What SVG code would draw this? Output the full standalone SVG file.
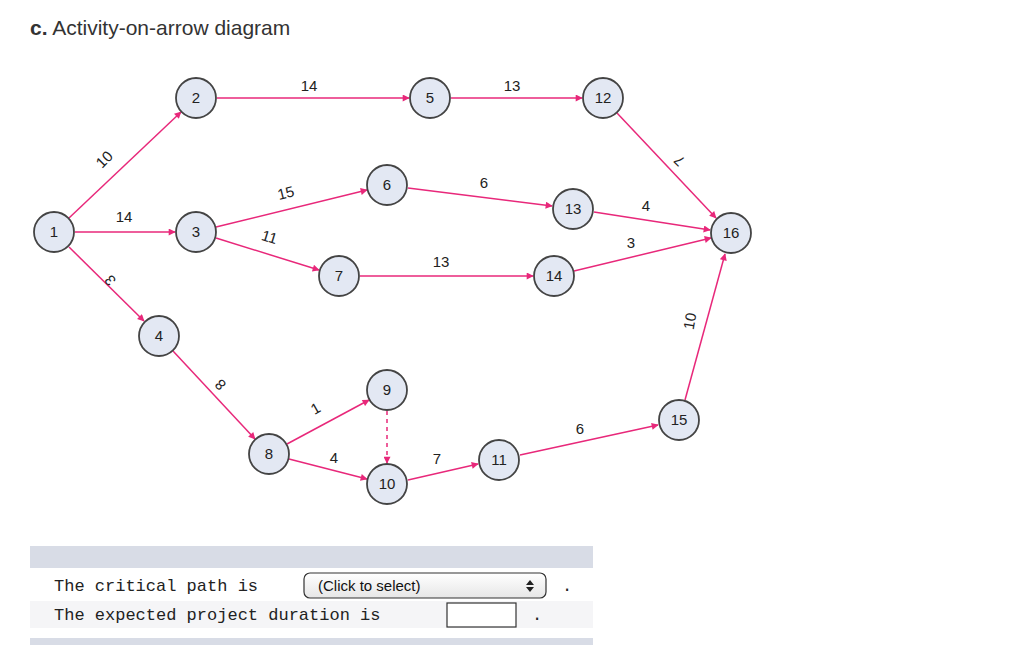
<svg xmlns="http://www.w3.org/2000/svg" width="1024" height="666" viewBox="0 0 1024 666">
<defs>
<marker id="ar" viewBox="0 0 10 10" refX="9" refY="5" markerWidth="9" markerHeight="7" orient="auto" markerUnits="userSpaceOnUse"><path d="M0,0L10,5L0,10z" fill="#e8287a"/></marker>
<linearGradient id="sg" x1="0" y1="0" x2="0" y2="1"><stop offset="0" stop-color="#ffffff"/><stop offset="1" stop-color="#e6e6e6"/></linearGradient>
</defs>
<style>
.n circle{fill:#e3e8f3;stroke:#444;stroke-width:1.8}
.n text{font:15px "Liberation Sans",Arial,sans-serif;fill:#222;text-anchor:middle}
#edges line{stroke:#e8287a;stroke-width:1.5;marker-end:url(#ar)}
.l{font:15px "Liberation Sans",Arial,sans-serif;fill:#222;text-anchor:middle}
.m{font:17px "Liberation Mono","Courier New",monospace;fill:#222}
</style>
<rect width="1024" height="666" fill="#fff"/>
<text x="30" y="35" font-family="Liberation Sans,Arial,sans-serif" font-size="21" fill="#333"><tspan font-weight="bold">c.</tspan> Activity-on-arrow diagram</text>
<g id="edges">
<line x1="69" y1="218" x2="181" y2="112"/>
<line x1="75" y1="232" x2="175" y2="232"/>
<line x1="69" y1="247" x2="144" y2="321"/>
<line x1="217" y1="98" x2="409" y2="98"/>
<line x1="451" y1="98" x2="582" y2="98"/>
<line x1="617" y1="113" x2="716" y2="218"/>
<line x1="216" y1="227" x2="367" y2="190"/>
<line x1="216" y1="238" x2="319" y2="270"/>
<line x1="408" y1="188" x2="552" y2="206"/>
<line x1="594" y1="212" x2="710" y2="230"/>
<line x1="360" y1="276" x2="533" y2="276"/>
<line x1="574" y1="271" x2="711" y2="238"/>
<line x1="173" y1="351" x2="255" y2="439"/>
<line x1="287" y1="444" x2="369" y2="400"/>
<line x1="289" y1="459" x2="367" y2="479"/>
<line x1="387" y1="411" x2="387" y2="463" stroke-dasharray="4,4"/>
<line x1="408" y1="480" x2="478" y2="464"/>
<line x1="520" y1="455" x2="658" y2="425"/>
<line x1="685" y1="400" x2="725" y2="254"/>
</g>
<g id="labels">
<text class="l" transform="translate(108,163) rotate(-45)">10</text>
<text class="l" x="124" y="222">14</text>
<text class="l" transform="translate(114,277) rotate(-130)">3</text>
<text class="l" x="309" y="91">14</text>
<text class="l" x="512" y="91">13</text>
<text class="l" transform="translate(683,157) rotate(-135)">7</text>
<text class="l" transform="translate(287,198) rotate(-14)">15</text>
<text class="l" transform="translate(268,242) rotate(17)">11</text>
<text class="l" x="484" y="188">6</text>
<text class="l" x="646" y="211">4</text>
<text class="l" x="441" y="267">13</text>
<text class="l" x="631" y="248">3</text>
<text class="l" transform="translate(224,381) rotate(-135)">8</text>
<text class="l" transform="translate(318,413) rotate(-30)">1</text>
<text class="l" x="334" y="463">4</text>
<text class="l" x="437" y="464">7</text>
<text class="l" x="580" y="434">6</text>
<text class="l" transform="translate(695,322) rotate(-80)">10</text>
</g>
<g id="n1" class="n"><circle cx="54" cy="232" r="20"/><text x="54" y="237">1</text></g>
<g id="n2" class="n"><circle cx="196" cy="98" r="20"/><text x="196" y="103">2</text></g>
<g id="n3" class="n"><circle cx="196" cy="232" r="20"/><text x="196" y="237">3</text></g>
<g id="n4" class="n"><circle cx="159" cy="336" r="20"/><text x="159" y="341">4</text></g>
<g id="n5" class="n"><circle cx="430" cy="98" r="20"/><text x="430" y="103">5</text></g>
<g id="n6" class="n"><circle cx="387" cy="185" r="20"/><text x="387" y="190">6</text></g>
<g id="n7" class="n"><circle cx="339" cy="276" r="20"/><text x="339" y="281">7</text></g>
<g id="n8" class="n"><circle cx="269" cy="454" r="20"/><text x="269" y="459">8</text></g>
<g id="n9" class="n"><circle cx="387" cy="390" r="20"/><text x="387" y="395">9</text></g>
<g id="n10" class="n"><circle cx="387" cy="484" r="20"/><text x="387" y="489">10</text></g>
<g id="n11" class="n"><circle cx="499" cy="460" r="20"/><text x="499" y="465">11</text></g>
<g id="n12" class="n"><circle cx="603" cy="98" r="20"/><text x="603" y="103">12</text></g>
<g id="n13" class="n"><circle cx="573" cy="209" r="20"/><text x="573" y="214">13</text></g>
<g id="n14" class="n"><circle cx="554" cy="276" r="20"/><text x="554" y="281">14</text></g>
<g id="n15" class="n"><circle cx="679" cy="420" r="20"/><text x="679" y="425">15</text></g>
<g id="n16" class="n"><circle cx="731" cy="233" r="20"/><text x="731" y="238">16</text></g>
<g id="form">
<rect x="30" y="546" width="563" height="22" fill="#d8dce6"/>
<rect x="30" y="601" width="563" height="27" fill="#f5f5f7"/>
<rect x="30" y="638" width="563" height="7" fill="#d8dce6"/>
<text class="m" x="54" y="591">The critical path is</text>
<rect x="304" y="573" width="242" height="25" rx="6" fill="url(#sg)" stroke="#333" stroke-width="1.2"/>
<text x="318" y="591" font-family="Liberation Sans,Arial,sans-serif" font-size="15" fill="#111">(Click to select)</text>
<path d="M530,580L534,585L526,585z M530,592L534,587L526,587z" fill="#222"/>
<text class="m" x="562" y="591">.</text>
<text class="m" x="54" y="620">The expected project duration is</text>
<rect x="447" y="603" width="69" height="24" fill="#fff" stroke="#333" stroke-width="1.2"/>
<text class="m" x="532" y="620">.</text>
</g>
</svg>
